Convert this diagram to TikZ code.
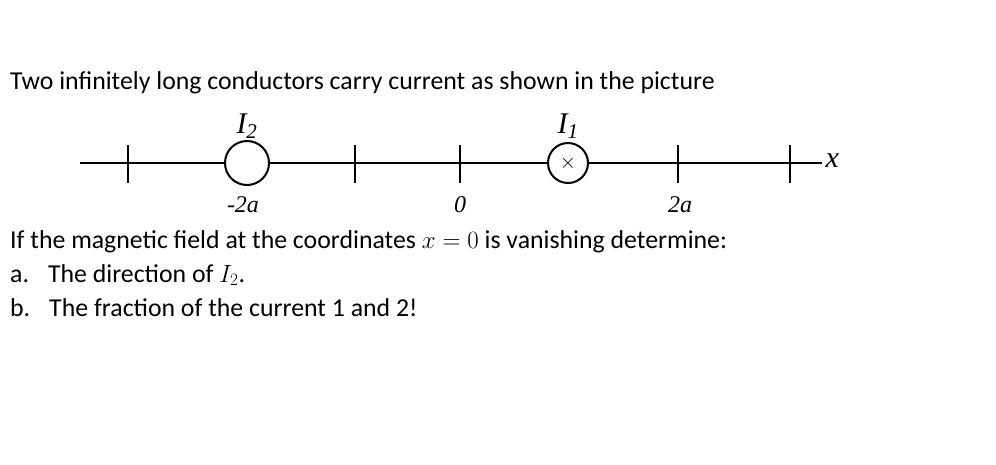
\documentclass[tikz,border=0pt]{standalone}
\usepackage{fontspec}
\setmainfont{Carlito}
\newfontfamily\labfont{Liberation Serif}
\begin{document}
\begin{tikzpicture}[x=1pt,y=-1pt,
  txt/.style={anchor=base west,inner sep=0,font=\fontsize{25.8}{30}\selectfont},
  tick/.style={line width=1.6pt},
  wire/.style={draw,line width=2pt,circle,minimum size=44pt,inner sep=0},
  lab/.style={font=\fontsize{30}{34}\selectfont\labfont\itshape},
  slab/.style={font=\fontsize{24}{28}\selectfont\labfont\itshape}]
\useasboundingbox (0,0) rectangle (996,464);
\node[txt] (t1) at (10,89) {Two infinitely long conductors carry current as shown in the picture};
\coordinate (L) at (80,163);
\coordinate (R) at (822,163);
\node[wire] (c2) at (247,163) {};
\node[wire,minimum size=40pt] (c1) at (568,163) {\fontsize{22}{22}\selectfont$\times$};
\draw[line width=1.6pt] (L) -- (c2.west) (c2.east) -- (c1.west) (c1.east) -- (R);
\foreach \x/\n in {128/a,355/b,460/c,678/d,790/e}{
  \coordinate (k\n1) at (\x,145); \coordinate (k\n2) at (\x,183);
  \draw[tick] (k\n1) -- (k\n2);}
\node[lab,anchor=west] (xl) at (822,161) {x};
\node[lab] (i2) at (247,126) {I\textsubscript{2}};
\node[lab] (i1) at (568,126) {I\textsubscript{1}};
\node[slab] (m2) at (243,205) {-2a};
\node[slab] (m0) at (460,205) {0};
\node[slab] (p2) at (680,205) {2a};
\node[txt] (t2) at (10,248) {If the magnetic field at the coordinates $x=0$ is vanishing determine:};
\node[txt] (t3) at (10,282) {a.\hspace{19pt}The direction of $I_2$.};
\node[txt] (t4) at (10,316) {b.\hspace{19pt}The fraction of the current 1 and 2!};
\end{tikzpicture}
\end{document}
